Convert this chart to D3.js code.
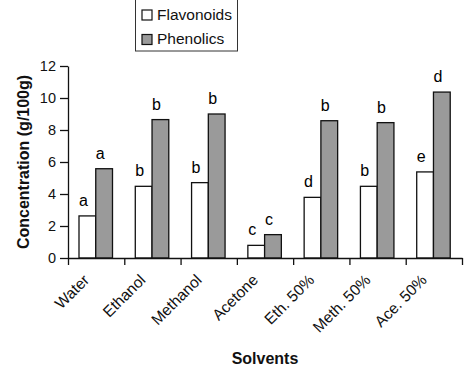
<!DOCTYPE html>
<html>
<head>
<meta charset="utf-8">
<script src="https://cdn.jsdelivr.net/npm/d3@7"></script>
<style>
  body { margin: 0; background: #fff; }
  svg { display: block; font-family: Arial, "Liberation Sans", Helvetica, sans-serif; }
</style>
</head>
<body>
<div id="chart"></div>
<script>
const solvents = ["Water", "Ethanol", "Methanol", "Acetone", "Eth. 50%", "Meth. 50%", "Ace. 50%"];
const seriesNames = ["Flavonoids", "Phenolics"];
const flavonoids = [2.63, 4.48, 4.71, 0.79, 3.79, 4.48, 5.38];
const phenolics = [5.58, 8.65, 9.0, 1.46, 8.58, 8.46, 10.37];
const flavLetters = ["a", "b", "b", "c", "d", "b", "e"];
const phenLetters = ["a", "b", "b", "c", "b", "b", "d"];
const yTicks = [0, 2, 4, 6, 8, 10, 12];

const W = 474, H = 377;
const colors = { Flavonoids: "#ffffff", Phenolics: "#9a9a9a" };

const svg = d3.select("#chart").append("svg")
  .attr("width", W)
  .attr("height", H);

// scales
const x0 = d3.scaleBand().domain(solvents).range([68, 462]).padding(0);
const x1 = d3.scaleBand().domain(seriesNames).range([11, 44.5]).padding(0);
const y = d3.scaleLinear().domain([0, 12]).range([258, 66]);

const rows = solvents.map((s, i) => ({
  solvent: s,
  values: [
    { key: "Flavonoids", value: flavonoids[i], letter: flavLetters[i] },
    { key: "Phenolics", value: phenolics[i], letter: phenLetters[i] }
  ]
}));

// bars
const groups = svg.append("g")
  .selectAll("g")
  .data(rows)
  .enter()
  .append("g")
  .attr("transform", d => `translate(${x0(d.solvent)},0)`);

groups.selectAll("rect")
  .data(d => d.values)
  .enter()
  .append("rect")
  .attr("x", d => x1(d.key))
  .attr("y", d => y(d.value))
  .attr("width", x1.bandwidth())
  .attr("height", d => y(0) - y(d.value))
  .attr("fill", d => colors[d.key])
  .attr("stroke", "#111")
  .attr("stroke-width", 1.3);

// significance letters
groups.selectAll("text")
  .data(d => d.values)
  .enter()
  .append("text")
  .attr("x", d => x1(d.key) + x1.bandwidth() / 2 - 4)
  .attr("y", d => y(d.value) - 10)
  .attr("text-anchor", "middle")
  .style("font-size", "16px")
  .text(d => d.letter);

// Y axis
const yAxis = svg.append("g")
  .attr("transform", "translate(68,0)")
  .call(d3.axisLeft(y).tickValues(yTicks).tickSize(8).tickSizeOuter(0).tickPadding(4));
yAxis.select(".domain").attr("stroke", "#111").attr("stroke-width", 1.3);
yAxis.selectAll(".tick line").attr("stroke", "#111").attr("stroke-width", 1.3);
yAxis.selectAll(".tick text")
  .style("font-size", "14.5px")
  .style("font-family", "Arial, 'Liberation Sans', sans-serif")
  .attr("fill", "#111");

// X axis: ticks at group boundaries
const xBounds = solvents.map(s => x0(s)).concat([x0.range()[1]]);
const xLin = d3.scaleLinear().domain([68, 462]).range([68, 462]);
const xAxis = svg.append("g")
  .attr("transform", `translate(0,${y(0)})`)
  .call(d3.axisBottom(xLin).tickValues(xBounds).tickSize(7).tickSizeOuter(0).tickFormat(""));
xAxis.select(".domain").attr("stroke", "#111").attr("stroke-width", 1.3);
xAxis.selectAll(".tick line").attr("stroke", "#111").attr("stroke-width", 1.3);

// X category labels
svg.append("g")
  .selectAll("text")
  .data(solvents)
  .enter()
  .append("text")
  .attr("transform", d => `translate(${x0(d) + x0.bandwidth() / 2 - 6},${y(0) + 23}) rotate(-45)`)
  .attr("text-anchor", "end")
  .style("font-size", "15.5px")
  .attr("fill", "#111")
  .text(d => d);

// axis titles
svg.append("text")
  .attr("x", 265)
  .attr("y", 364)
  .attr("text-anchor", "middle")
  .style("font-size", "16px")
  .style("font-weight", "bold")
  .attr("fill", "#111")
  .text("Solvents");

svg.append("text")
  .attr("transform", "translate(29,162) rotate(-90)")
  .attr("text-anchor", "middle")
  .style("font-size", "16px")
  .style("font-weight", "bold")
  .attr("fill", "#111")
  .text("Concentration (g/100g)");

// legend
const legend = svg.append("g");
legend.append("rect")
  .attr("x", 135.5)
  .attr("y", -12)
  .attr("width", 102)
  .attr("height", 63)
  .attr("fill", "#fff")
  .attr("stroke", "#333")
  .attr("stroke-width", 1);

const items = legend.selectAll("g.item")
  .data(seriesNames)
  .enter()
  .append("g")
  .attr("class", "item")
  .attr("transform", (d, i) => `translate(142,${10 + i * 24.5})`);

items.append("rect")
  .attr("width", 10)
  .attr("height", 10)
  .attr("fill", d => colors[d])
  .attr("stroke", "#111")
  .attr("stroke-width", 1.2);

items.append("text")
  .attr("x", 15)
  .attr("y", 9.5)
  .style("font-size", "15.5px")
  .attr("fill", "#111")
  .text(d => d);
</script>
</body>
</html>
